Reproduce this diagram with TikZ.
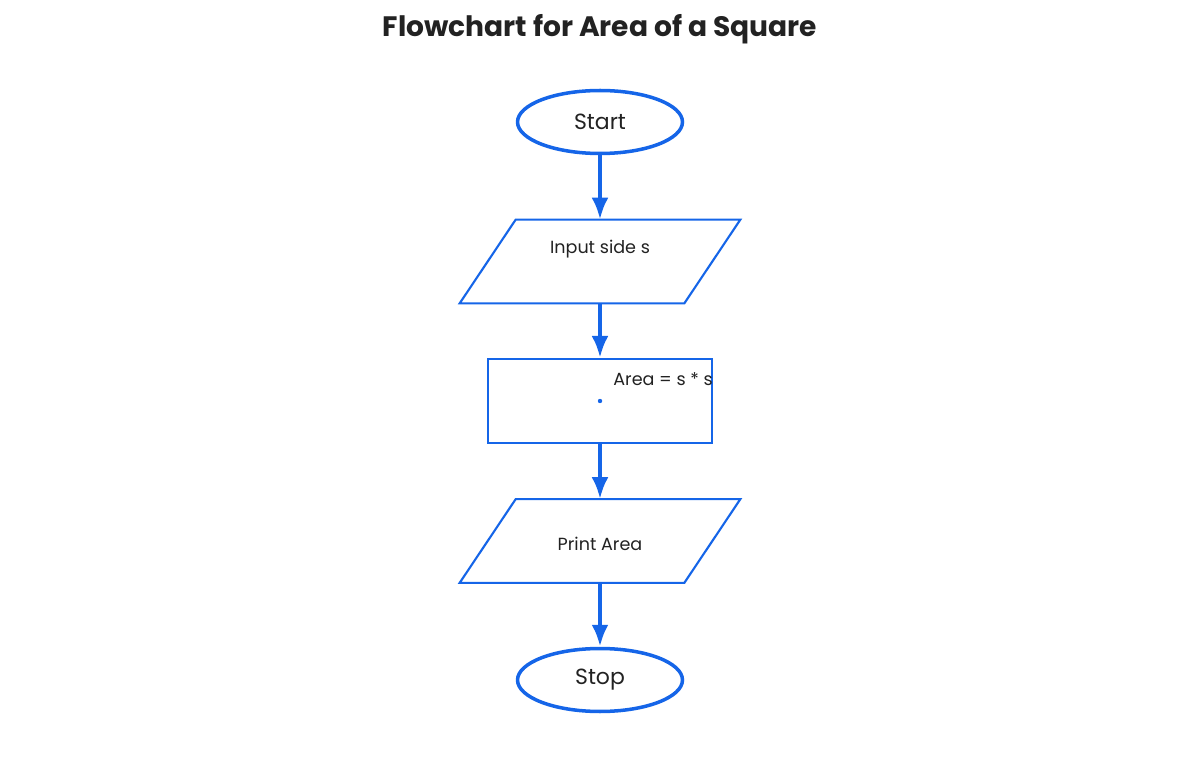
\documentclass[tikz,border=0pt]{standalone}
\usepackage{fontspec}
\setmainfont{Poppins}
\usetikzlibrary{arrows.meta,shapes.geometric}
\definecolor{flowblue}{RGB}{21,101,232}
\definecolor{inkgray}{RGB}{34,34,34}
\tikzset{
  terminal/.style={draw=flowblue, ellipse, line width=2pt, minimum width=3.3cm, minimum height=1.26cm, inner sep=0pt, text=inkgray, font=\fontsize{12.5}{14}\selectfont},
  iobox/.style={minimum width=4.48cm, minimum height=1.66cm, inner sep=0pt},
  procbox/.style={draw=flowblue, line width=1.2pt, minimum width=4.48cm, minimum height=1.68cm, inner sep=0pt},
  boxtext/.style={text=inkgray, font=\fontsize{10}{12}\selectfont},
  flowarrow/.style={draw=flowblue, line width=2.8pt, -{Latex[length=0.44cm,width=0.34cm]}}
}
\begin{document}
\begin{tikzpicture}[x=0.02cm,y=-0.02cm]
  \useasboundingbox (0,0) rectangle (1200,763);
  % Titel
  \node[text=inkgray, font=\fontsize{16}{18}\selectfont\bfseries] (title) at (600,29) {Flowchart for Area of a Square};
  % Knoten
  \node[terminal] (start) at (600,122) {Start};
  \node[iobox] (input) at (600,261.5) {};
  \node[procbox] (area) at (600,401) {};
  \node[iobox] (print) at (600,541) {};
  \node[terminal] (stop) at (600,680) {Stop};
  % Parallelogramme
  \foreach \n in {input,print}
    \draw[flowblue, line width=1.2pt] ([xshift=0.56cm]\n.north west) -- ([xshift=0.56cm]\n.north east)
      -- ([xshift=-0.56cm]\n.south east) -- ([xshift=-0.56cm]\n.south west) -- cycle;
  % Texte
  \node[boxtext] (inputtext) at (600,249) {Input side s};
  \node[boxtext, anchor=west, inner sep=0pt] (areatext) at (613,379) {Area = s * s};
  \node[boxtext] (printtext) at (600,544) {Print Area};
  \fill[flowblue] (area.center) circle (2.2);
  % Pfeile
  \draw[flowarrow] (start) -- (input);
  \draw[flowarrow] (input) -- (area);
  \draw[flowarrow] (area) -- (print);
  \draw[flowarrow] (print) -- (stop);
\end{tikzpicture}
\end{document}
